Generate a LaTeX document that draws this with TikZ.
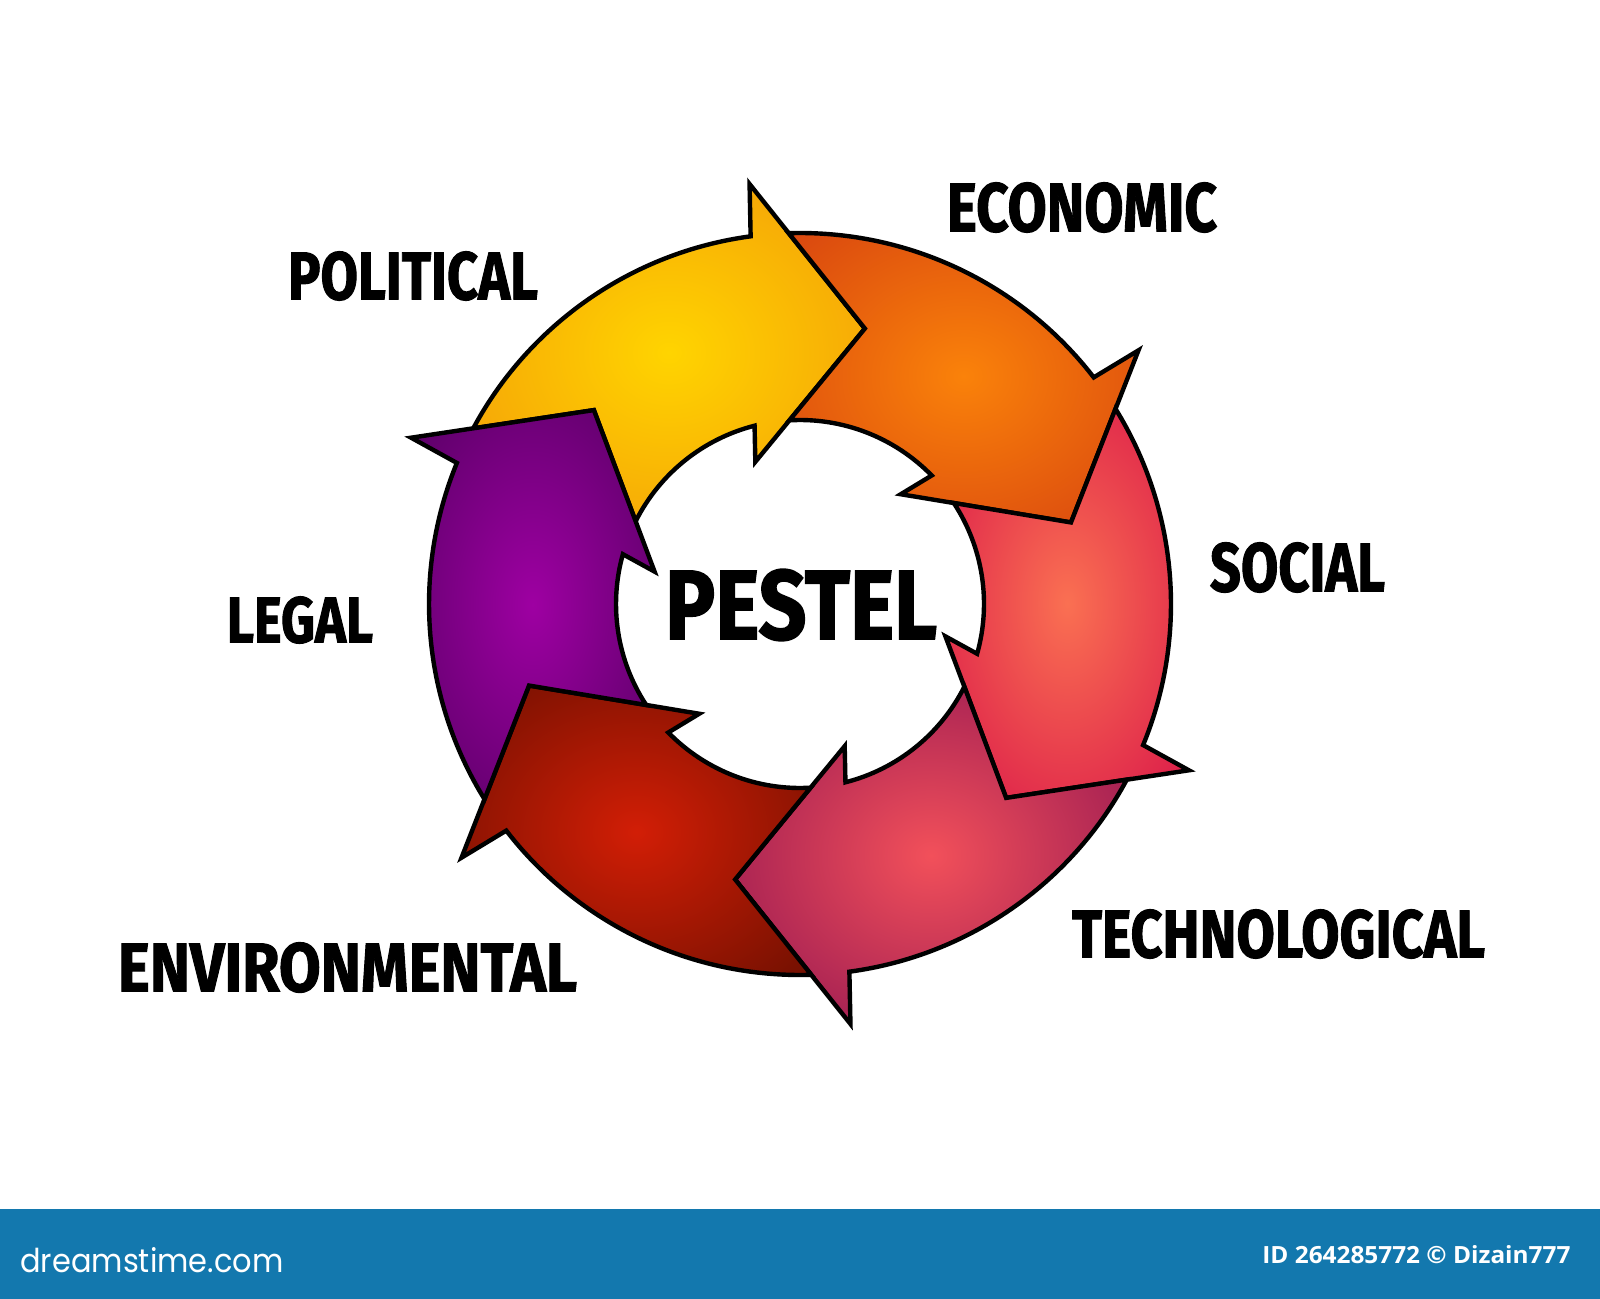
\documentclass[tikz,border=0pt]{standalone}
\usepackage{fontspec}
\usepackage{graphicx}
\setmainfont{Fira Sans}[BoldFeatures={FakeBold=1.6}]
\newfontfamily\brandfont{Poppins}
\newfontfamily\idfont{Open Sans}
\definecolor{yIn}{RGB}{255,212,0}   \definecolor{yOut}{RGB}{242,148,10}
\definecolor{oIn}{RGB}{250,130,10}  \definecolor{oOut}{RGB}{212,62,16}
\definecolor{sIn}{RGB}{250,112,82}  \definecolor{sOut}{RGB}{214,12,72}
\definecolor{tIn}{RGB}{242,80,90}   \definecolor{tOut}{RGB}{132,12,80}
\definecolor{eIn}{RGB}{210,30,6}    \definecolor{eOut}{RGB}{100,14,0}
\definecolor{lIn}{RGB}{158,0,162}   \definecolor{lOut}{RGB}{78,0,92}
\definecolor{bannerblue}{RGB}{19,120,174}
\pgfdeclareradialshading{shY}{\pgfpoint{0bp}{0bp}}{color(0bp)=(yIn); color(40bp)=(yOut); color(50bp)=(yOut)}
\pgfdeclareradialshading{shO}{\pgfpoint{0bp}{0bp}}{color(0bp)=(oIn); color(40bp)=(oOut); color(50bp)=(oOut)}
\pgfdeclareradialshading{shS}{\pgfpoint{0bp}{0bp}}{color(0bp)=(sIn); color(40bp)=(sOut); color(50bp)=(sOut)}
\pgfdeclareradialshading{shT}{\pgfpoint{0bp}{0bp}}{color(0bp)=(tIn); color(40bp)=(tOut); color(50bp)=(tOut)}
\pgfdeclareradialshading{shE}{\pgfpoint{0bp}{0bp}}{color(0bp)=(eIn); color(40bp)=(eOut); color(50bp)=(eOut)}
\pgfdeclareradialshading{shL}{\pgfpoint{0bp}{0bp}}{color(0bp)=(lIn); color(40bp)=(lOut); color(50bp)=(lOut)}
\tikzset{
  arrowpiece/.style={draw=black, line width=2.2pt, line join=miter},
  lab/.style={inner sep=0pt, font=\bfseries},
  bannertext/.style={inner sep=0pt, text=white}
}
% #1 = tip angle, #2 = shading
\newcommand\pestArrow[2]{%
  \shadedraw[arrowpiece, shading=#2]
    ({#1+75}:371) arc[start angle={#1+75}, end angle={#1+20.9}, radius=371]
    -- ({#1+20.1}:423) -- ({#1}:283) -- ({#1+30.7}:149) -- ({#1+27.55}:184)
    arc[start angle={#1+27.55}, end angle={#1+76.54}, radius=184]
    -- ({#1+60}:283) -- cycle;}
\begin{document}
\begin{tikzpicture}[x=0.5pt, y=0.5pt]
\useasboundingbox (0,0) rectangle (1600,-1299);
\fill[white] (0,0) rectangle (1600,-1299);

\begin{scope}[shift={(800,-604)}]
  \pestArrow{76.75}{shY}
  \pestArrow{16.75}{shO}
  \pestArrow{-43.25}{shS}
  \pestArrow{-103.25}{shT}
  \pestArrow{-163.25}{shE}
  \pestArrow{136.75}{shL}
\end{scope}

\node[lab] (pestel) at (801,-605) {\resizebox{136pt}{35pt}{PESTEL}};
\node[lab] (political) at (413,-276) {\resizebox{125pt}{24pt}{POLITICAL}};
\node[lab] (economic) at (1082,-207.5) {\resizebox{135pt}{24.5pt}{ECONOMIC}};
\node[lab] (social) at (1297.5,-567.5) {\resizebox{87.5pt}{24.5pt}{SOCIAL}};
\node[lab] (legal) at (300,-620) {\resizebox{73pt}{23pt}{LEGAL}};
\node[lab] (technological) at (1278.5,-934) {\resizebox{206.5pt}{24pt}{TECHNOLOGICAL}};
\node[lab] (environmental) at (347.5,-967.5) {\resizebox{229.5pt}{24.5pt}{ENVIRONMENTAL}};

\fill[bannerblue] (0,-1209) rectangle (1600,-1299);
\node[bannertext, anchor=base west] (brand) at (20,-1272) {\resizebox{131.5pt}{12.5pt}{\brandfont dreamstime.com}};
\node[bannertext, anchor=base west] (imgid) at (1262,-1263) {\resizebox{154pt}{9pt}{\idfont\bfseries ID 264285772 © Dizain777}};
\end{tikzpicture}
\end{document}
